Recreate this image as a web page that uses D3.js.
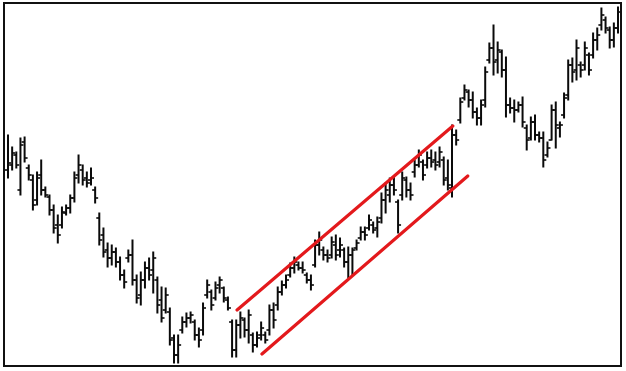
<!DOCTYPE html>
<html><head><meta charset="utf-8">
<script src="https://cdn.jsdelivr.net/npm/d3@7/dist/d3.min.js"></script>
<style>html,body{margin:0;padding:0;background:#fff;}svg{display:block;}</style>
</head><body><div id="chart"></div>
<script>
const highs = [235,223,218,232,233,205,195,198,210,183,175,165,155,163,165,175,198,215,205,198,202,183,157,142,127,125,122,113,100,120,130,95,98,108,112,118,93,83,82,62,35,35,53,57,58,50,42,67,90,80,88,93,83,73,50,50,58,52,60,37,38,48,38,65,67,83,89,95,107,113,108,108,97,95,130,138,123,120,133,135,132,122,123,122,130,143,143,155,148,153,177,187,192,193,170,198,193,187,210,220,210,218,220,218,223,213,210,245,240,272,285,280,278,262,270,303,327,345,328,320,313,272,270,268,273,245,253,255,238,238,228,265,268,248,277,310,312,330,308,328,317,337,342,362,353,343,347,363];
const lows = [192,200,202,175,208,190,160,165,175,173,155,137,127,142,155,157,168,187,185,183,185,167,125,113,103,105,103,90,82,108,85,67,65,82,90,77,57,48,57,25,7,7,37,43,47,30,23,35,72,60,70,77,68,60,13,13,32,33,27,18,23,30,27,35,42,60,75,82,93,97,100,97,87,80,103,115,110,108,112,110,113,103,92,95,120,130,130,140,137,133,147,157,168,175,137,170,173,170,193,203,190,202,203,200,203,185,180,173,225,247,270,263,252,245,245,263,307,295,297,293,253,257,248,258,243,220,230,230,228,203,213,230,222,233,252,270,288,290,293,300,295,312,320,340,337,322,323,337];
const opens = [200,205,215,180,228,202,190,170,195,180,173,160,145,145,157,162,172,195,200,192,190,180,152,135,120,112,118,108,95,112,115,90,75,90,102,100,90,70,60,58,32,15,40,48,52,48,35,40,75,78,72,85,82,70,48,20,45,50,40,35,25,35,35,40,60,65,78,85,95,102,105,102,95,90,105,125,120,115,115,125,120,120,108,115,122,132,138,142,145,142,152,170,175,185,168,175,190,180,198,205,208,205,212,210,208,210,192,182,235,250,272,278,270,258,252,270,310,322,310,318,300,265,262,260,265,242,232,248,235,232,215,230,260,242,255,275,305,300,305,305,315,315,330,345,350,340,330,342];
const closes = [207,217,205,225,212,195,165,192,180,175,160,142,135,158,162,172,192,205,190,187,192,172,130,118,112,118,108,95,88,115,90,72,90,102,95,112,65,52,75,30,15,25,48,52,55,35,30,62,85,65,82,90,72,62,20,45,52,40,55,25,32,42,30,60,50,78,85,90,102,108,102,100,90,85,125,130,115,112,128,115,125,108,115,120,127,138,135,150,140,148,170,180,185,180,145,192,180,175,205,215,195,212,208,205,218,190,185,235,230,268,280,270,258,252,265,298,322,308,320,300,265,262,260,265,248,230,248,235,232,210,222,260,245,245,272,305,298,322,300,322,300,330,335,355,342,330,342,358];
// channel trend lines: [bar index, price]
const channelUpper = [[55.2, 60], [107.2, 244]];
const channelLower = [[61.2, 16], [110.8, 194]];

const W = 626, H = 371;
const svg = d3.select('#chart').append('svg').attr('width', W).attr('height', H);
svg.append('rect').attr('x',0).attr('y',0).attr('width',W).attr('height',H).attr('fill','#fff');

const n = highs.length;
const x = d3.scaleLinear().domain([0, n - 1]).range([8, 618]);
const y = d3.scaleLinear().domain([0, 370]).range([370, 0]);

const bars = d3.range(n).map(i => ({i, h: highs[i], l: lows[i], o: opens[i], c: closes[i]}));
const g = svg.append('g').attr('stroke', '#0a0a0a').attr('stroke-width', 2).attr('fill', 'none');
const bg = g.selectAll('g.bar').data(bars).join('g').attr('class', 'bar');
bg.append('line').attr('x1', d => x(d.i)).attr('x2', d => x(d.i)).attr('y1', d => y(d.h) - 0.5).attr('y2', d => y(d.l) + 0.5);
bg.append('line').attr('x1', d => x(d.i) - 3).attr('x2', d => x(d.i)).attr('y1', d => y(d.o)).attr('y2', d => y(d.o)).attr('stroke-width', 1.6);
bg.append('line').attr('x1', d => x(d.i)).attr('x2', d => x(d.i) + 3).attr('y1', d => y(d.c)).attr('y2', d => y(d.c)).attr('stroke-width', 1.6);

const line = d3.line().x(d => x(d[0])).y(d => y(d[1]));
[channelUpper, channelLower].forEach(c => {
  svg.append('path').attr('d', line(c)).attr('stroke', '#e3191c').attr('stroke-width', 3.2).attr('fill', 'none').attr('stroke-linecap', 'round');
});

svg.append('rect').attr('x', 4).attr('y', 3).attr('width', 617).attr('height', 363)
  .attr('fill', 'none').attr('stroke', '#111').attr('stroke-width', 2);
</script></body></html>
